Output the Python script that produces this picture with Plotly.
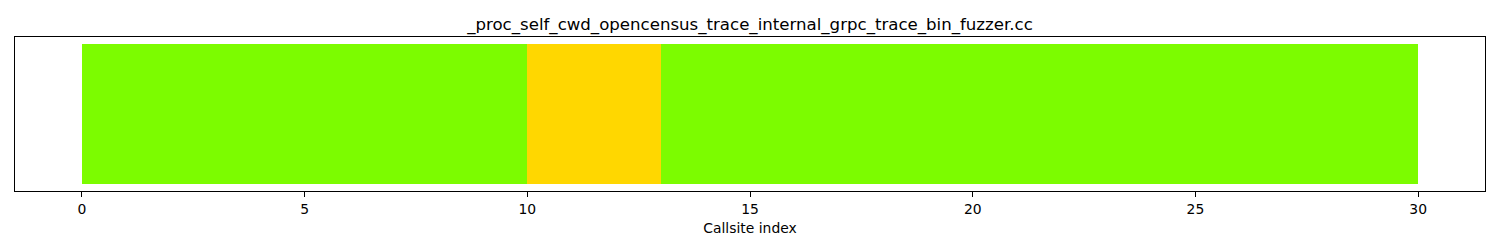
import plotly.graph_objects as go

title = "_proc_self_cwd_opencensus_trace_internal_grpc_trace_bin_fuzzer.cc"
callsite_index = list(range(30))
callsite_color = ["#7CFC00"] * 10 + ["#FFD700"] * 3 + ["#7CFC00"] * 17
bar_height = [1] * 30
x_ticks = [0, 5, 10, 15, 20, 25, 30]

fig = go.Figure()
fig.add_trace(go.Bar(
    x=[i + 0.5 for i in callsite_index],
    y=bar_height,
    width=1,
    marker=dict(color=callsite_color, line=dict(width=0)),
    hoverinfo="x",
))

font = "DejaVu Sans"
fig.update_layout(
    width=1500, height=250,
    margin=dict(l=15, r=15, t=37, b=59),
    paper_bgcolor="white", plot_bgcolor="white",
    bargap=0, showlegend=False,
    title=dict(text=title, x=0.5, xanchor="center", y=1 - 24 / 250, yanchor="middle",
               font=dict(family=font, size=16.6, color="black")),
    xaxis=dict(range=[-1.5, 31.5], tickvals=x_ticks, ticks="outside", ticklen=5,
               tickcolor="black", showline=True, linecolor="black", linewidth=1,
               mirror=True, showgrid=False, zeroline=False,
               tickfont=dict(family=font, size=13.9, color="black"),
               title=dict(text="Callsite index", standoff=7,
                          font=dict(family=font, size=13.9, color="black"))),
    yaxis=dict(range=[-0.05, 1.05], showticklabels=False, ticks="", showline=True,
               linecolor="black", linewidth=1, mirror=True, showgrid=False, zeroline=False),
)
fig.write_html("out.html")
